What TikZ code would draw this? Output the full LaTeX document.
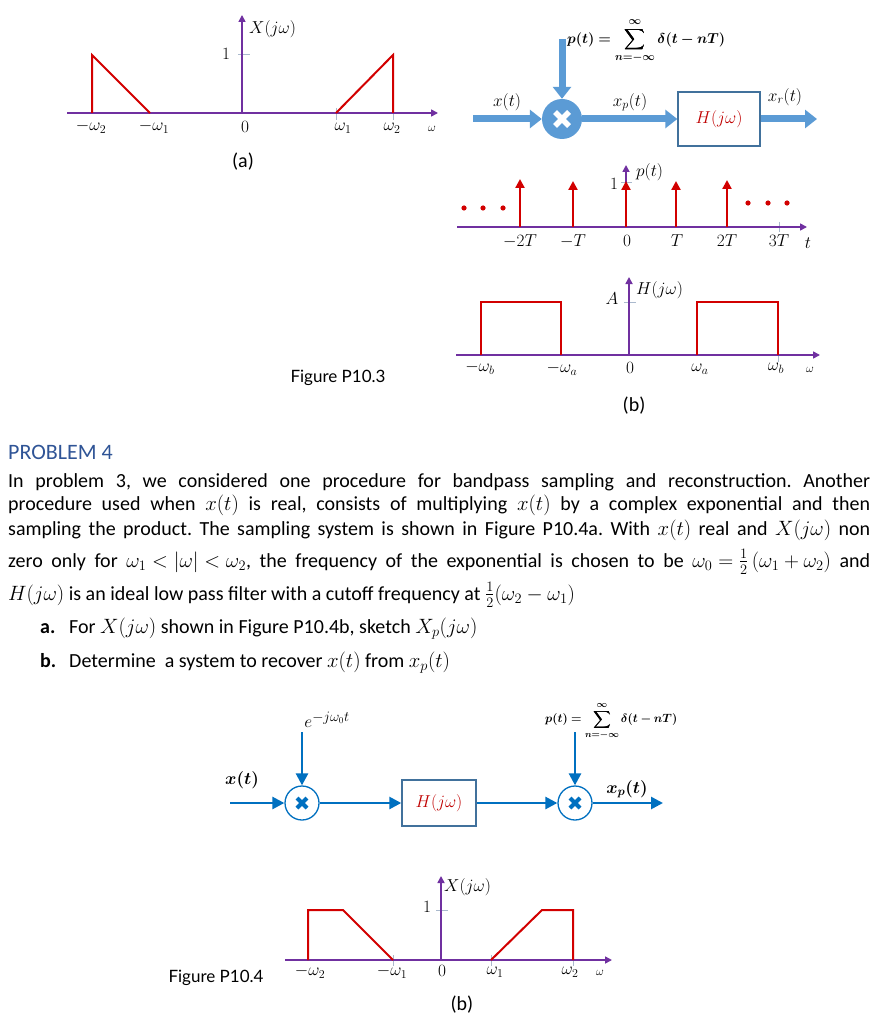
\documentclass[tikz,border=0pt]{standalone}
\usepackage{amsmath,bm}
\usepackage{fontspec}
\setmainfont{Carlito}
\newfontfamily\figfont{Lato}
\usetikzlibrary{arrows.meta}
\usetikzlibrary{positioning}
\usepackage{xcolor}
\definecolor{axpurple}{RGB}{112,48,160}
\definecolor{sigred}{RGB}{210,0,0}
\definecolor{lightblue}{RGB}{91,155,213}
\definecolor{darkblue}{RGB}{0,112,192}
\definecolor{boxblue}{RGB}{65,113,156}
\definecolor{tickgrey}{RGB}{170,185,205}
\definecolor{headblue}{RGB}{47,84,150}
\definecolor{hred}{RGB}{192,0,0}
\frenchspacing
\thickmuskip=5mu
\medmuskip=4mu

\tikzset{
  axis/.style={axpurple, line width=1.6pt, -{Triangle[length=7pt,width=7pt]}},
  sig/.style={sigred, line width=2pt},
  imp/.style={sigred, line width=2.2pt, -{Triangle[length=9pt,width=9pt]}},
  tck/.style={tickgrey, line width=0.8pt},
  lbl/.style={font=\fontsize{18}{21}\selectfont, inner sep=0pt},
  tiny/.style={font=\fontsize{12}{14}\selectfont, inner sep=0pt},
  fatarrow/.style={lightblue, line width=7pt, -{Triangle[length=12pt,width=18pt]}},
  thinarrow/.style={darkblue, line width=2.6pt, -{Triangle[length=12pt,width=12pt]}},
  bigmul/.style={circle, fill=lightblue, minimum size=40pt, inner sep=0pt},
  smallmul/.style={circle, draw=darkblue, line width=1.3pt, fill=white, minimum size=34pt, inner sep=0pt},
  filt/.style={draw=boxblue, line width=1.4pt, inner sep=0pt, text=hred, font=\fontsize{16}{19}\selectfont},
  body/.style={font=\fontsize{20}{24}\selectfont, inner sep=0pt, anchor=base west},
  captxt/.style={font=\fontsize{20}{23}\selectfont, inner sep=0pt},
  figtxt/.style={font=\figfont\fontsize{17}{20}\selectfont, inner sep=0pt},
}

\begin{document}
\begin{tikzpicture}[x=1pt,y=-1pt]
\useasboundingbox[fill=white] (0,0) rectangle (884,1024);

\draw[tck] (238,54) -- (250,54);
\draw[tck] (336,108) -- (336,120);
\draw[tck] (393,108) -- (393,120);
\draw[axis] (67,113) -- (438,113);
\draw[axis] (242,113) -- (242,15);
\draw[sig] (92,113) -- (92,55) -- (150,113);
\draw[sig] (336,113) -- (393,55) -- (393,113);
\node[lbl, anchor=west] (XaLbl) at (249,29) {$X(j\omega)$};
\node[lbl] (oneA) at (226,54) {$1$};
\node[lbl] (mw2A) at (91,127) {$-\omega_2$};
\node[lbl] (mw1A) at (154,127) {$-\omega_1$};
\node[lbl] (zeroA) at (245,127) {$0$};
\node[lbl] (w1A) at (343,128) {$\omega_1$};
\node[lbl] (w2A) at (392,128) {$\omega_2$};
\node[tiny] (wA) at (432,129) {$\omega$};
\node[captxt] (capA) at (243,162) {(a)};

\coordinate (inA) at (473,119);
\coordinate (pA) at (562,39);
\coordinate (outA) at (817,119);
\node[bigmul] (mulA) at (562,119) {};
\node[filt, minimum width=82pt, minimum height=54pt] (filtA) at (719,119) {$H(j\omega)$};
\draw[fatarrow] (inA) -- (mulA);
\draw[fatarrow] (pA) -- (mulA);
\draw[fatarrow] (mulA) -- (filtA);
\draw[fatarrow] (filtA) -- (outA);
\draw[white, line width=5.5pt] (mulA.center) ++(-7,-7) -- ++(14,14);
\draw[white, line width=5.5pt] (mulA.center) ++(-7,7) -- ++(14,-14);
\node[lbl] (xA) at (507,102) {$x(t)$};
\node[lbl] (xpA) at (630,102) {$x_p(t)$};
\node[lbl] (xrA) at (785,97) {$x_r(t)$};
\node[font=\fontsize{15}{18}\selectfont, inner sep=0pt, anchor=west] (sumA) at (567,41)
  {$\displaystyle\bm{p(t)=\sum_{n=-\infty}^{\infty}\delta(t-nT)}$};

\draw[tck] (621,182) -- (632,182);
\draw[tck] (779,222) -- (779,232);
\draw[axis] (457,227) -- (807,227);
\draw[axis] (626,227) -- (626,165);
\draw[imp] (520,227) -- (520,179);
\draw[imp] (573,227) -- (573,181);
\draw[imp] (626,227) -- (626,181);
\draw[imp] (676,227) -- (676,181);
\draw[imp] (727,227) -- (727,180);
\fill[sigred] (464,208) circle (2.6pt);
\fill[sigred] (483,208) circle (2.6pt);
\fill[sigred] (503,208) circle (2.6pt);
\fill[sigred] (748,203) circle (2.6pt);
\fill[sigred] (768,203) circle (2.6pt);
\fill[sigred] (787,203) circle (2.6pt);
\node[lbl, anchor=west] (pLbl) at (636,172) {$p(t)$};
\node[lbl] (oneP) at (614,184) {$1$};
\node[lbl] (m2T) at (520,241) {$-2T$};
\node[lbl] (m1T) at (573,241) {$-T$};
\node[lbl] (zeroP) at (627,241) {$0$};
\node[lbl] (p1T) at (677,241) {$T$};
\node[lbl] (p2T) at (727,241) {$2T$};
\node[lbl] (p3T) at (779,241) {$3T$};
\node[lbl] (tP) at (808,243) {$t$};

\draw[tck] (624,302) -- (636,302);
\draw[tck] (778,350) -- (778,362);
\draw[axis] (456,355) -- (820,355);
\draw[axis] (629,355) -- (629,277);
\draw[sig] (481,355) -- (481,302) -- (561,302) -- (561,355);
\draw[sig] (697,355) -- (697,302) -- (778,302) -- (778,355);
\node[lbl, anchor=west] (HLbl) at (636,290) {$H(j\omega)$};
\node[lbl] (AH) at (612,299) {$A$};
\node[lbl] (mwbH) at (480,368) {$-\omega_b$};
\node[lbl] (mwaH) at (562,369) {$-\omega_a$};
\node[lbl] (zeroH) at (630,368) {$0$};
\node[lbl] (waH) at (700,369) {$\omega_a$};
\node[lbl] (wbH) at (776,368) {$\omega_b$};
\node[tiny] (wH) at (810,370) {$\omega$};
\node[captxt] (capB) at (634,406) {(b)};
\node[figtxt] (figA) at (338,378) {Figure P10.3};

\node[font=\fontsize{22}{26}\selectfont, text=headblue, inner sep=0pt, anchor=base west] (head) at (8,459) {PROBLEM 4};
\node[body] (ln1) at (8,487) {\makebox[862pt][s]{In problem 3, we considered one procedure for bandpass sampling and reconstruction. Another}};
\node[body] (ln2) at (8,510) {\makebox[862pt][s]{procedure used when $x(t)$ is real, consists of multiplying $x(t)$ by a complex exponential and then}};
\node[body] (ln3) at (8,535) {\makebox[862pt][s]{sampling the product. The sampling system is shown in Figure P10.4a. With $x(t)$ real and $X(j\omega)$ non}};
\node[body] (ln4) at (8,567) {\makebox[862pt][s]{zero only for $\omega_1<|\omega|<\omega_2$, the frequency of the exponential is chosen to be $\omega_0=\frac{1}{2}\,(\omega_1+\omega_2)$ and}};
\node[body] (ln5) at (8,600) {$H(j\omega)$ is an ideal low pass filter with a cutoff frequency at $\frac{1}{2}(\omega_2-\omega_1)$};
\node[body] (itA) at (40,633) {\textbf{a.}};
\node[body] (lnA) at (69,633) {For $X(j\omega)$ shown in Figure P10.4b, sketch $X_p(j\omega)$};
\node[body] (itB) at (40,667) {\textbf{b.}};
\node[body] (lnB) at (69,667) {Determine\ \ a system to recover $x(t)$ from $x_p(t)$};

\coordinate (inB) at (230,803);
\coordinate (eB) at (302,732);
\coordinate (pC) at (575,732);
\coordinate (outC) at (663,803);
\node[smallmul] (mulB) at (302,803) {};
\node[filt, minimum width=74pt, minimum height=46pt] (filtB) at (439,803) {$H(j\omega)$};
\node[smallmul] (mulC) at (575,803) {};
\draw[thinarrow] (inB) -- (mulB);
\draw[thinarrow] (eB) -- (mulB);
\draw[thinarrow] (mulB) -- (filtB);
\draw[thinarrow] (filtB) -- (mulC);
\draw[thinarrow] (pC) -- (mulC);
\draw[thinarrow] (mulC) -- (outC);
\draw[darkblue, line width=4pt] (mulB.center) ++(-5,-5) -- ++(10,10);
\draw[darkblue, line width=4pt] (mulB.center) ++(-5,5) -- ++(10,-10);
\draw[darkblue, line width=4pt] (mulC.center) ++(-5,-5) -- ++(10,10);
\draw[darkblue, line width=4pt] (mulC.center) ++(-5,5) -- ++(10,-10);
\node[lbl] (xB) at (242,780) {$\bm{x(t)}$};
\node[font=\fontsize{19}{22}\selectfont, inner sep=0pt] (eLbl) at (327,720) {$e^{-j\omega_0t}$};
\node[lbl] (xpC) at (627,789) {$\bm{x_p(t)}$};
\node[font=\fontsize{13}{16}\selectfont, inner sep=0pt, anchor=west] (sumC) at (545,721)
  {$\displaystyle\bm{p(t)=\sum_{n=-\infty}^{\infty}\delta(t-nT)}$};

\draw[tck] (436,910) -- (448,910);
\draw[tck] (393,955) -- (393,966);
\draw[tck] (491,955) -- (491,966);
\draw[tck] (573,955) -- (573,966);
\draw[axis] (285,960) -- (612,960);
\draw[axis] (441,960) -- (441,876);
\draw[sig] (308,960) -- (308,910) -- (343,910) -- (393,960);
\draw[sig] (491,960) -- (542,910) -- (573,910) -- (573,960);
\node[lbl, anchor=west] (XbLbl) at (444,887) {$X(j\omega)$};
\node[lbl] (oneB) at (427,907) {$1$};
\node[lbl] (mw2B) at (310,972) {$-\omega_2$};
\node[lbl] (mw1B) at (392,972) {$-\omega_1$};
\node[lbl] (zeroB) at (442,971) {$0$};
\node[lbl] (w1B) at (495,972) {$\omega_1$};
\node[lbl] (w2B) at (570,972) {$\omega_2$};
\node[tiny] (wB) at (600,973) {$\omega$};
\node[figtxt] (figB) at (216,978) {Figure P10.4};
\node[captxt] (capC) at (462,1005) {(b)};
\end{tikzpicture}
\end{document}
